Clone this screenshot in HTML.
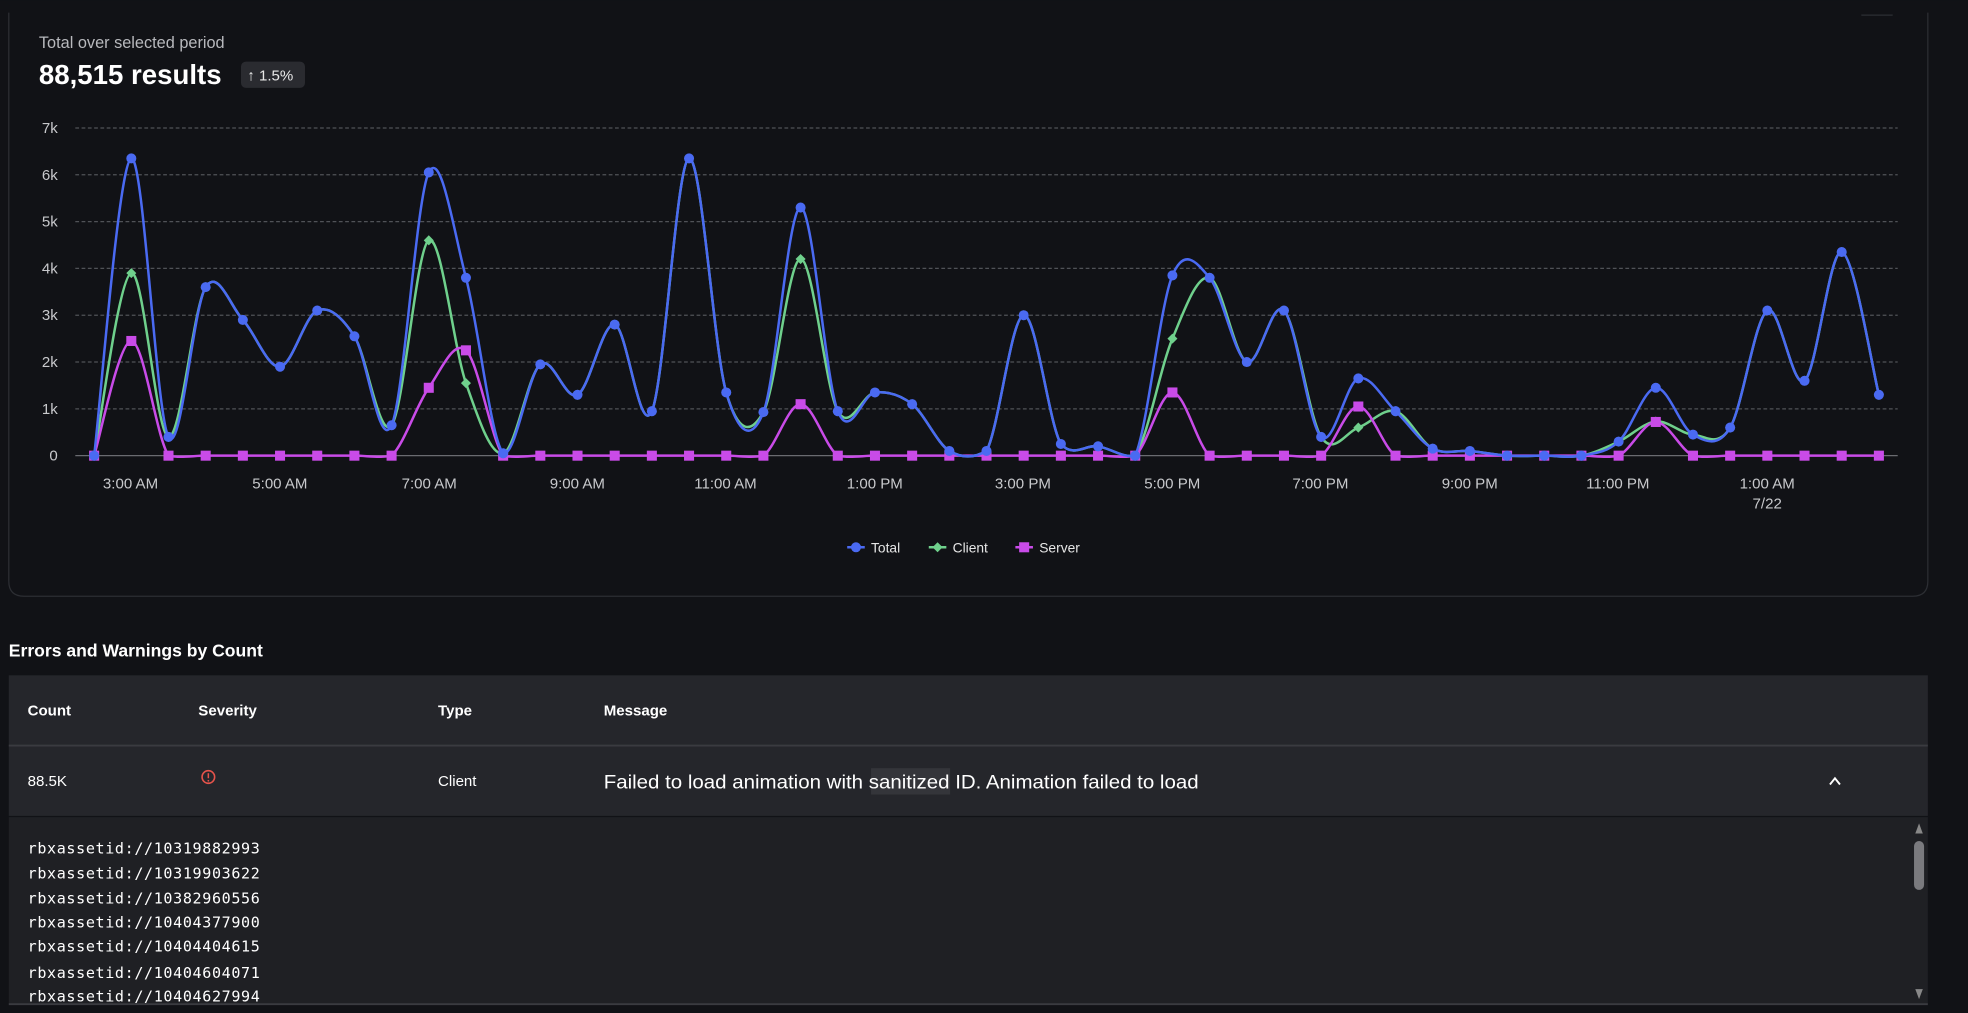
<!DOCTYPE html>
<html><head><meta charset="utf-8"><style>
html,body{margin:0;padding:0;background:#111216;overflow:hidden}
svg{display:block}
text{font-family:"Liberation Sans",sans-serif}
.mono text{font-family:"DejaVu Sans Mono","Liberation Mono",monospace}
</style></head><body>
<svg id="s" width="1968" height="1013" viewBox="0 0 1568 807" xmlns="http://www.w3.org/2000/svg">
<rect width="1568" height="807" fill="#111216"/>
<path d="M7,10 V463 Q7,475 19,475 H1524 Q1536,475 1536,463 V10" fill="none" stroke="#2c2e33" stroke-width="1"/>
<line x1="1483" y1="12" x2="1508" y2="12" stroke="#2c2e33"/>
<text x="31" y="38" font-size="13" fill="#b8b9bd">Total over selected period</text>
<text x="31" y="67" font-size="22" font-weight="bold" fill="#fff">88,515 results</text>
<rect x="192" y="49" width="51" height="21" rx="4" fill="#2a2b30"/>
<text x="197" y="64" font-size="12" fill="#e8e8e8">↑ 1.5%</text>
<g id="grid"></g>
<g id="xl" font-size="12" fill="#c8c9cc" text-anchor="middle"></g>
<g id="series"></g>
<g font-size="11" fill="#e6e6e6">
<line x1="675" y1="436" x2="689" y2="436" stroke="#4a6af2" stroke-width="2"/><circle cx="682" cy="436" r="4" fill="#4a6af2"/><text x="694" y="440">Total</text>
<line x1="740" y1="436" x2="754" y2="436" stroke="#6fd08c" stroke-width="2"/><path d="M747,432 L751,436 L747,440 L743,436Z" fill="#6fd08c"/><text x="759" y="440">Client</text>
<line x1="809" y1="436" x2="823" y2="436" stroke="#c94be8" stroke-width="2"/><rect x="812" y="432" width="8" height="8" fill="#c94be8"/><text x="828" y="440">Server</text>
</g>
<text x="7" y="523" font-size="14" font-weight="bold" fill="#fff">Errors and Warnings by Count</text>
<rect x="7" y="538" width="1529" height="112" fill="#25262b"/>
<line x1="7" y1="594" x2="1536" y2="594" stroke="#3a3b40" stroke-width="1.5"/>
<g font-size="12" font-weight="bold" fill="#fff">
<text x="22" y="570">Count</text><text x="158" y="570">Severity</text><text x="349" y="570">Type</text><text x="481" y="570">Message</text>
</g>
<text x="22" y="626" font-size="12" fill="#fff">88.5K</text>
<circle cx="166" cy="619" r="5" fill="none" stroke="#e5534b" stroke-width="1.3"/><line x1="166" y1="616" x2="166" y2="620" stroke="#e5534b" stroke-width="1.2"/><circle cx="166" cy="622" r="0.7" fill="#e5534b"/>
<text x="349" y="626" font-size="12" fill="#fff">Client</text>
<rect x="694" y="612" width="63" height="21" fill="#34353a"/>
<text x="481" y="628" font-size="15.5" fill="#fff" textLength="474" lengthAdjust="spacingAndGlyphs">Failed to load animation with sanitized ID. Animation failed to load</text>
<path d="M1458,625 L1462,620 L1466,625" fill="none" stroke="#fff" stroke-width="1.5"/>
<rect x="7" y="651" width="1529" height="149" fill="#1f2024"/>
<line x1="7" y1="800" x2="1536" y2="800" stroke="#3a3b40" stroke-width="1.5"/>
<g class="mono" font-size="12" fill="#fff">
<text x="22" y="680" textLength="185">rbxassetid://10319882993</text>
<text x="22" y="700" textLength="185">rbxassetid://10319903622</text>
<text x="22" y="720" textLength="185">rbxassetid://10382960556</text>
<text x="22" y="739" textLength="185">rbxassetid://10404377900</text>
<text x="22" y="758" textLength="185">rbxassetid://10404404615</text>
<text x="22" y="779" textLength="185">rbxassetid://10404604071</text>
<text x="22" y="798" textLength="185">rbxassetid://10404627994</text>
</g>
<path d="M1526,664 L1529,656 L1532,664Z" fill="#888"/>
<rect x="1525" y="670" width="8" height="39" rx="4" fill="#7a7a7e"/>
<path d="M1526,788 L1529,796 L1532,788Z" fill="#888"/>
</svg>
<script>
var NS="http://www.w3.org/2000/svg";
function el(t,a,p){var e=document.createElementNS(NS,t);for(var k in a)e.setAttribute(k,a[k]);p.appendChild(e);return e;}
var Y0=363,K=37.3;
var g=document.getElementById('grid');
for(var i=0;i<=7;i++){var y=Y0-i*K;
 el('line',{x1:60,y1:y,x2:1512,y2:y,stroke:i?'#505257':'#6a6b70','stroke-width':1,'stroke-dasharray':i?'3,2':'none'},g);
 var t=el('text',{x:46,y:y+4,'font-size':12,fill:'#c8c9cc','text-anchor':'end'},g);t.textContent=i?i+'k':'0';}
var xl=document.getElementById('xl');
var labs=[[104,'3:00 AM'],[223,'5:00 AM'],[342,'7:00 AM'],[460,'9:00 AM'],[578,'11:00 AM'],[697,'1:00 PM'],[815,'3:00 PM'],[934,'5:00 PM'],[1052,'7:00 PM'],[1171,'9:00 PM'],[1289,'11:00 PM'],[1408,'1:00 AM']];
labs.forEach(function(l){var t=el('text',{x:l[0],y:389},xl);t.textContent=l[1];});
var t2=el('text',{x:1408,y:405},xl);t2.textContent='7/22';
var total=[0,6.35,0.4,3.6,2.9,1.9,3.1,2.55,0.65,6.05,3.8,0.05,1.95,1.3,2.8,0.95,6.35,1.35,0.93,5.3,0.95,1.35,1.1,0.1,0.1,3.0,0.25,0.2,0,3.85,3.8,2.0,3.1,0.4,1.65,0.95,0.15,0.1,0,0,0,0.3,1.45,0.45,0.6,3.1,1.6,4.35,1.3];
var server=total.map(function(){return 0;});
server[1]=2.45;server[9]=1.45;server[10]=2.25;server[19]=1.1;server[29]=1.35;server[34]=1.05;server[42]=0.72;
var client=total.map(function(v,i){return Math.max(0,v-server[i]);});
var X=function(i){return 75+i*(1497-75)/48;};
function pts(a){return a.map(function(v,i){return [X(i),Y0-v*K];});}
function spline(p){var d='M'+p[0][0]+','+p[0][1];
 for(var i=0;i<p.length-1;i++){var p0=p[i-1]||p[i],p1=p[i],p2=p[i+1],p3=p[i+2]||p2;
  var c1x=p1[0]+(p2[0]-p0[0])/6,c1y=p1[1]+(p2[1]-p0[1])/6,c2x=p2[0]-(p3[0]-p1[0])/6,c2y=p2[1]-(p3[1]-p1[1])/6;
  c1y=Math.min(c1y,Y0+2);c2y=Math.min(c2y,Y0+2);
  d+=' C'+c1x+','+c1y+' '+c2x+','+c2y+' '+p2[0]+','+p2[1];}
 return d;}
var S=document.getElementById('series');
function draw(a,col,mk){var p=pts(a);
 el('path',{d:spline(p),fill:'none',stroke:col,'stroke-width':2},S);
 p.forEach(function(q){
  if(mk=='c')el('circle',{cx:q[0],cy:q[1],r:4,fill:col},S);
  else if(mk=='d')el('path',{d:'M'+q[0]+','+(q[1]-4)+' L'+(q[0]+4)+','+q[1]+' L'+q[0]+','+(q[1]+4)+' L'+(q[0]-4)+','+q[1]+'Z',fill:col},S);
  else el('rect',{x:q[0]-4,y:q[1]-4,width:8,height:8,fill:col},S);});}
draw(client,'#6fd08c','d');
draw(server,'#c94be8','s');
draw(total,'#4a6af2','c');
</script>
</body></html>
